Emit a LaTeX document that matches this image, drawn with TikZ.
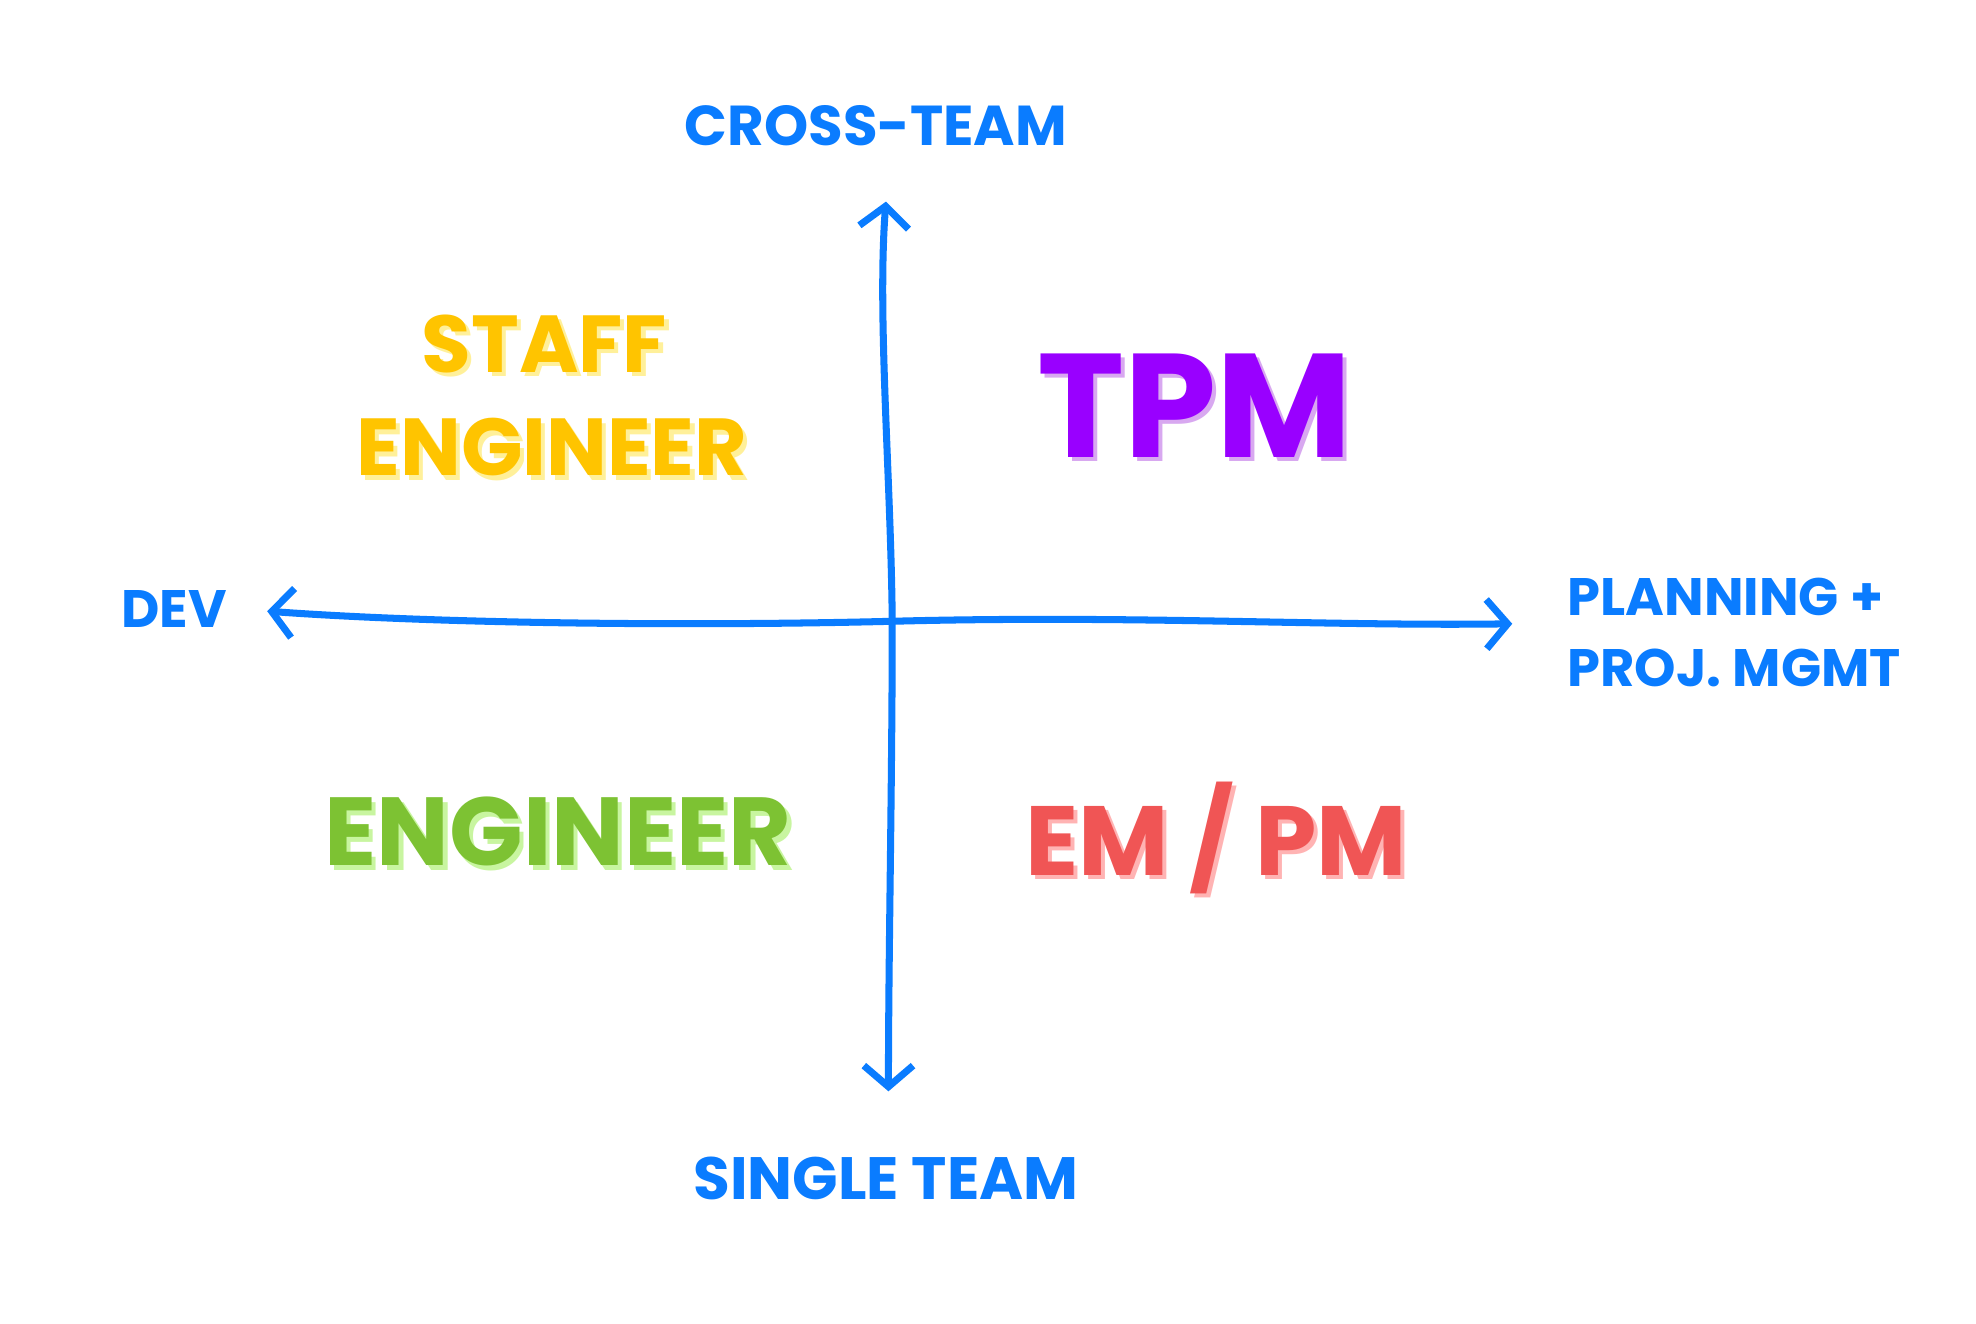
\documentclass[tikz,border=0pt]{standalone}
\usepackage{fontspec}
\setmainfont{Poppins}
\usetikzlibrary{arrows.meta}
\definecolor{axblue}{HTML}{0A7CFF}
\definecolor{yel}{HTML}{FFC400}
\definecolor{yelsh}{HTML}{FFF09A}
\definecolor{pur}{HTML}{9900FF}
\definecolor{pursh}{HTML}{D8A8F0}
\definecolor{grn}{HTML}{7DC233}
\definecolor{grnsh}{HTML}{C8F5A0}
\definecolor{rd}{HTML}{F05555}
\definecolor{rdsh}{HTML}{FFB3B3}
\tikzset{
  axis/.style={draw=axblue,line width=2pt,line cap=round,line join=round,
    -{Straight Barb[length=6pt,width=14pt,line width=2pt]}},
  lbl/.style={font=\fontsize{16}{20}\selectfont\bfseries,text=axblue},
  big/.style={font=\fontsize{23}{26}\selectfont\bfseries},
}
\newcommand{\shtext}[6]{% name, pos, text, color, shadowcolor, style
  \node[#6,text=#5,xshift=1.2pt,yshift=-1.2pt] (#1s) at (#2) {#3};
  \node[#6,text=#4] (#1) at (#2) {#3};}
\begin{document}
\begin{tikzpicture}[x=0.0126cm,y=-0.0126cm]
\useasboundingbox (0,0) rectangle (1568,1050.6);
\fill[white] (0,0) rectangle (1568,1050.6);
\coordinate (c) at (708,493);
\coordinate (t) at (703,160);
\coordinate (b) at (705,866);
\coordinate (l) at (212,485);
\coordinate (r) at (1200,495);
\draw[axis] (c) .. controls (707,380) and (696,250) .. (t);
\draw[axis] (c) .. controls (708,620) and (705,760) .. (b);
\draw[axis] (c) .. controls (550,497) and (350,495) .. (l);
\draw[axis] (c) .. controls (900,488) and (1050,497) .. (r);
\node[lbl] (ct) at (695,100) {CROSS-TEAM};
\node[lbl,font=\fontsize{17}{20}\selectfont\bfseries] (st) at (703,935) {SINGLE TEAM};
\node[lbl,font=\fontsize{15}{20}\selectfont\bfseries] (dev) at (138,483) {DEV};
\node[lbl,anchor=west,align=left,font=\fontsize{15}{20}\selectfont\bfseries] (pl) at (1234,502) {PLANNING +\\PROJ. MGMT};
\shtext{staff}{432,273}{STAFF}{yel}{yelsh}{big}
\shtext{eng1}{438,355}{ENGINEER}{yel}{yelsh}{big}
\shtext{tpm}{948,322}{TPM}{pur}{pursh}{font=\fontsize{42}{46}\selectfont\bfseries}
\shtext{eng2}{443,660}{ENGINEER}{grn}{grnsh}{font=\fontsize{27.5}{30}\selectfont\bfseries}
\shtext{empm}{965,665}{EM / PM}{rd}{rdsh}{font=\fontsize{28}{30}\selectfont\bfseries}
\end{tikzpicture}
\end{document}
